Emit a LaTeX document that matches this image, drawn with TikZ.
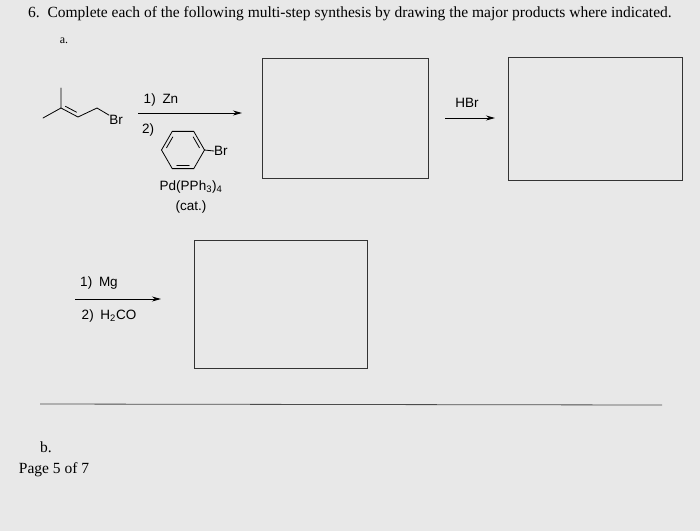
\documentclass[tikz,border=0pt]{standalone}
\usepackage{fontspec}
\usetikzlibrary{calc,arrows.meta}
\setmainfont{Liberation Serif}
\newfontfamily\mysans{Liberation Sans}
\begin{document}
\begin{tikzpicture}[x=1pt,y=-1pt,
  lab/.style={font=\mysans\fontsize{13.5}{15}\selectfont,inner sep=0},
  ser/.style={font=\fontsize{15.5}{17}\selectfont,inner sep=0},
  box/.style={draw=black!80,line width=0.9pt},
  bond/.style={line width=0.8pt,line cap=round},
  rxn/.style={-{Stealth[length=9pt,width=5pt]},line width=0.9pt}]
\fill[black!9] (0,0) rectangle (700,531);
\useasboundingbox (0,0) rectangle (700,531);
\node[ser,anchor=west] (title) at (28,14) {6.\enspace Complete each of the following multi-step synthesis by drawing the major products where indicated.};
\node[ser,font=\fontsize{12}{13}\selectfont] (a) at (64,41) {a.};
% prenyl bromide
\coordinate (m1) at (61,88); \coordinate (c2) at (61,108); \coordinate (m2) at (43,118);
\coordinate (c3) at (78,117); \coordinate (c4) at (97,108);
\node[lab] (br1) at (116,120) {Br};
\draw[bond] (m1)--(c2)--(m2); \draw[bond] (c2)--(c3)--(c4)--(br1.north west);
\draw[bond] ($(c2)!0.2!(c3)+(1,-3.5)$)--($(c2)!0.85!(c3)+(1,-3.5)$);
% arrow 1
\coordinate (a1s) at (138,113); \coordinate (a1e) at (242,113);
\draw[rxn] (a1s)--(a1e);
\node[lab] (zn) at (161,100) {1)\enspace Zn};
\node[lab] (two) at (148,130) {2)};
% benzene
\foreach \i in {0,...,5}{\coordinate (b\i) at ($(183,150)+(\i*60:21.5 and -21.5)$);}
\draw[bond] (b0)--(b1)--(b2)--(b3)--(b4)--(b5)--cycle;
\foreach \p/\q in {b0/b1,b2/b3,b4/b5}{\draw[bond] ($(\p)!0.15!(\q)!3.5pt!(183,150)$)--($(\q)!0.15!(\p)!3.5pt!(183,150)$);}
\node[lab,anchor=west] (br2) at (214,151) {Br};
\draw[bond] (b0)--(br2.west);
\node[lab] (pd) at (191,187) {Pd(PPh\textsubscript{3})\textsubscript{4}};
\node[lab] (cat) at (191,207) {(cat.)};
% boxes
\draw[box] (262,58) rectangle (428,178);
\draw[box] (508,57) rectangle (682,180);
\node[lab] (hbr) at (467,103) {HBr};
\coordinate (a2s) at (445,118); \coordinate (a2e) at (495,118);
\draw[rxn] (a2s)--(a2e);
\draw[box] (194,240) rectangle (367,368);
\node[lab] (mg) at (99,283) {1)\enspace Mg};
\coordinate (a3s) at (75,299); \coordinate (a3e) at (161,299);
\draw[rxn] (a3s)--(a3e);
\node[lab] (h2co) at (109,316) {2)\enspace H\textsubscript{2}CO};
\coordinate (l1) at (40,404); \coordinate (l2) at (662,405);
\draw[black!70,line width=0.8pt] (l1)--(l2);
\node[ser] (b) at (46,447) {b.};
\node[ser] (page) at (54,470) {Page 5 of 7};
\end{tikzpicture}
\end{document}
